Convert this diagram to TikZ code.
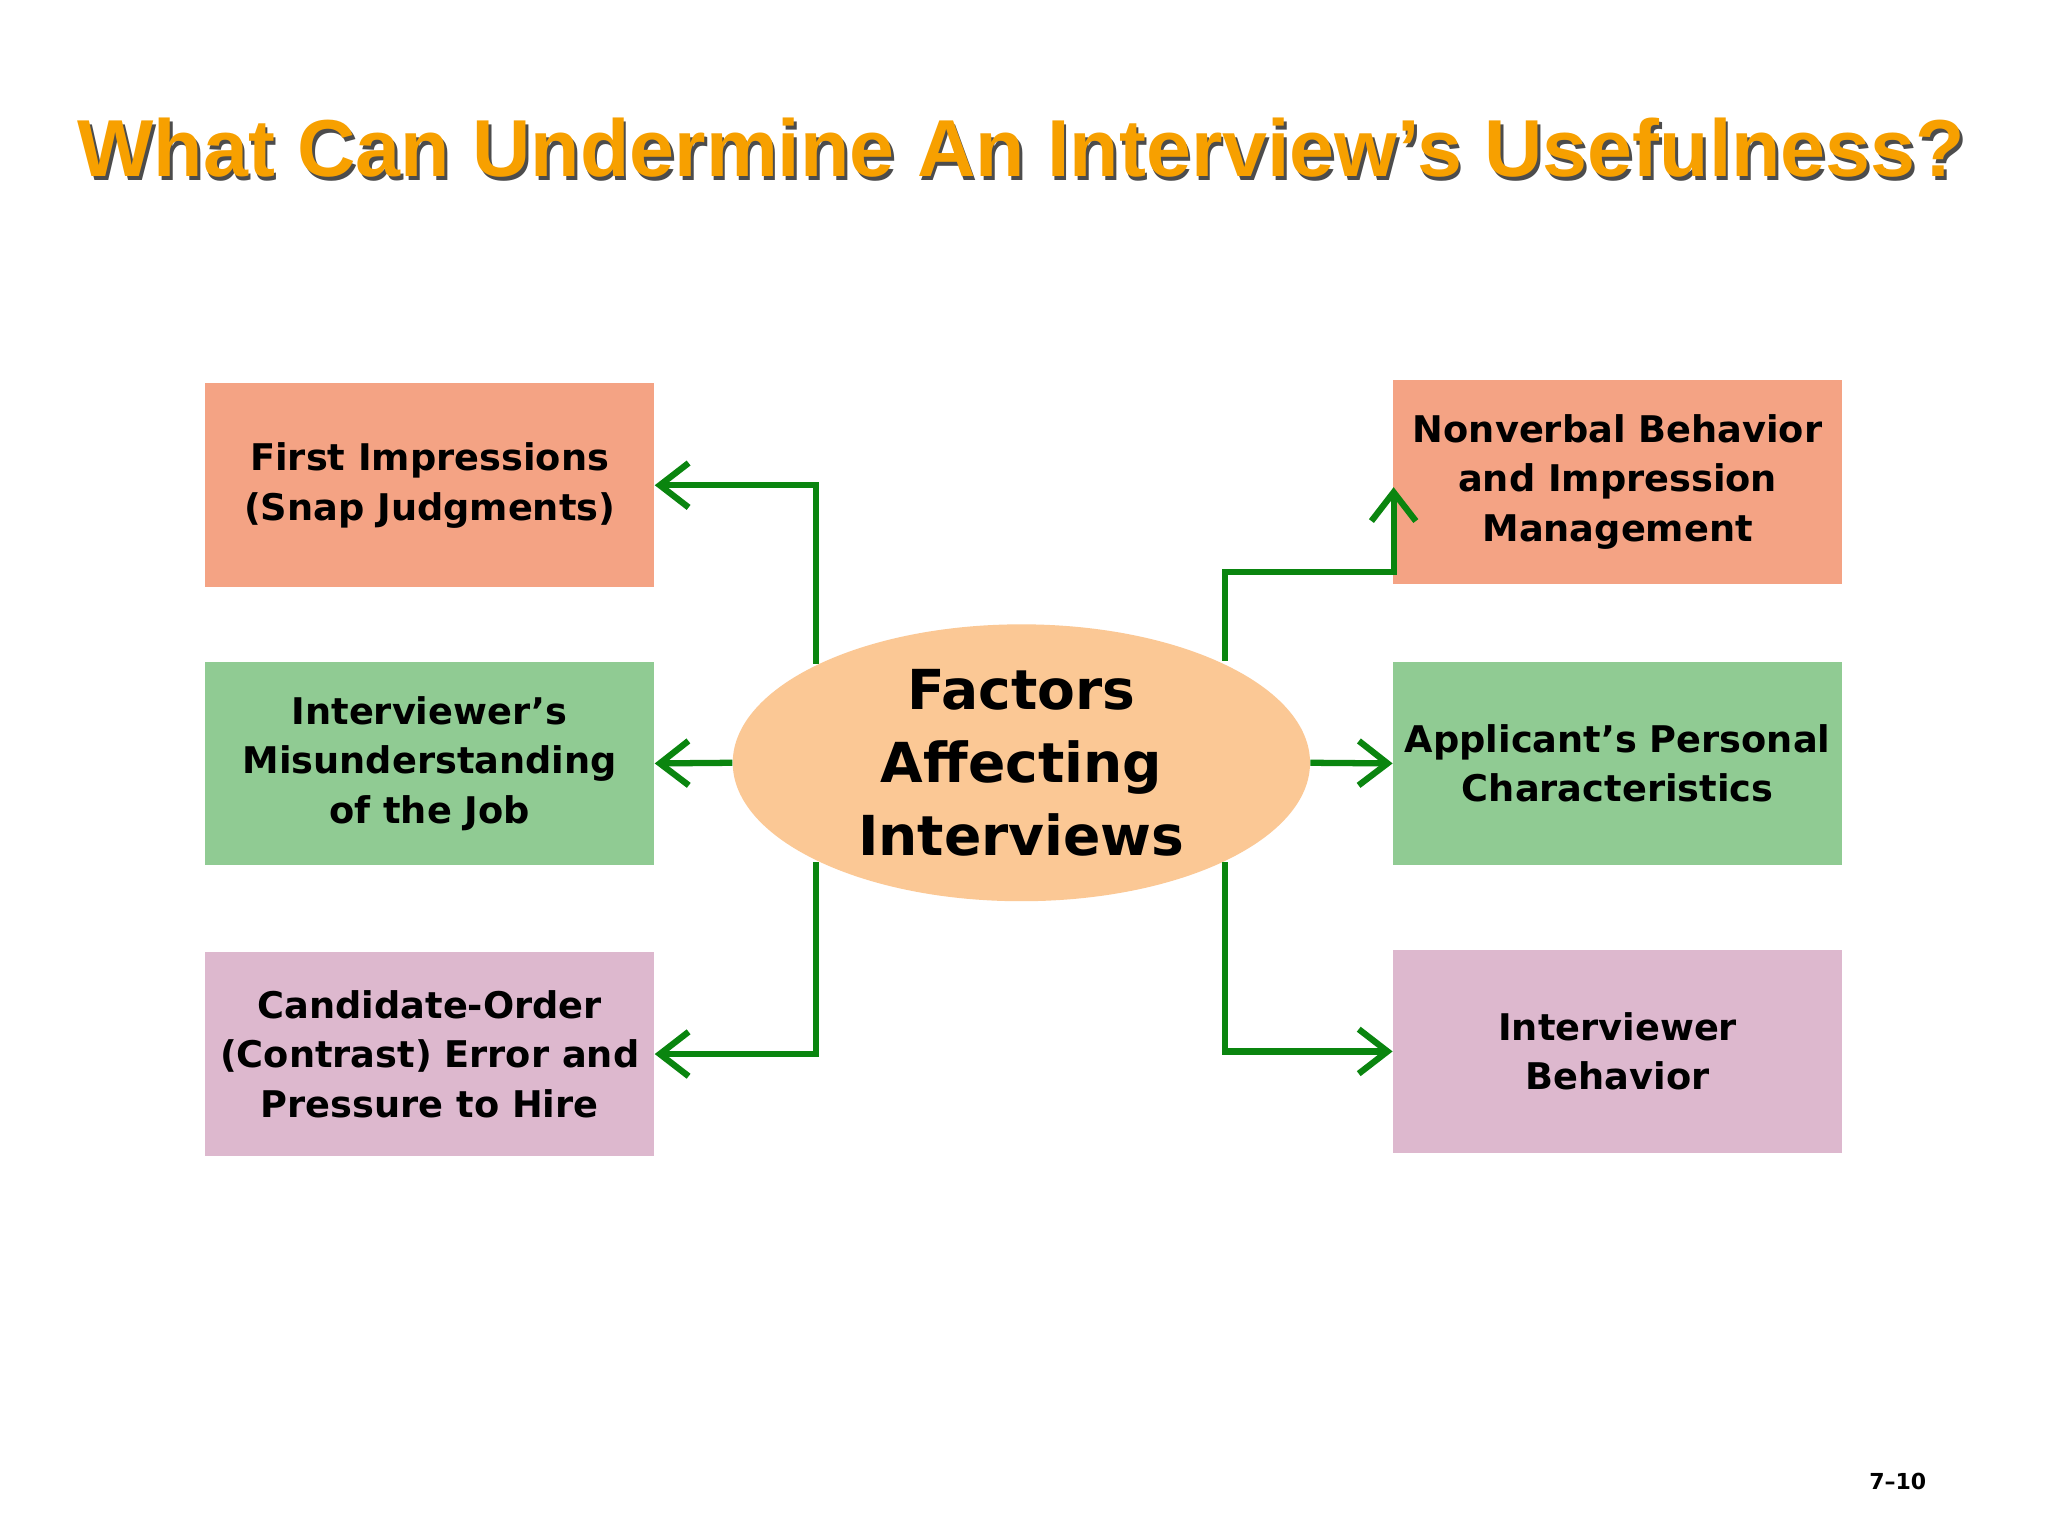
\documentclass[tikz,border=0pt]{standalone}
\usepackage{fontspec}
\setmainfont{DejaVu Sans}
\newfontfamily\titlefont{Liberation Sans}
\usetikzlibrary{arrows.meta,shapes.geometric}
\definecolor{salmon}{HTML}{F4A384}
\definecolor{mint}{HTML}{90CB93}
\definecolor{mauve}{HTML}{DDB8CE}
\definecolor{peach}{HTML}{FBC895}
\definecolor{arrgreen}{HTML}{0A850F}
\definecolor{ttl}{HTML}{F7A000}
\begin{document}
\begin{tikzpicture}[x=0.025cm,y=-0.025cm,
  box/.style={minimum width=344*0.025cm,minimum height=156*0.025cm,inner sep=0pt,align=center,font=\bfseries\fontsize{20}{27}\selectfont},
  conn/.style={draw=arrgreen,line width=0.12cm,-{Straight Barb[length=0.55cm,width=0.85cm,line width=0.12cm]}}]
\useasboundingbox[fill=white] (0,0) rectangle (1568,1176);
\node[font=\titlefont\bfseries\fontsize{44}{50}\selectfont,text=black!70] at (784,116) {What Can Undermine An Interview’s Usefulness?};
\node[font=\titlefont\bfseries\fontsize{44}{50}\selectfont,text=ttl] at (782,113) {What Can Undermine An Interview’s Usefulness?};
\node[box,fill=salmon] (l1) at (329,371.5) {First Impressions\\(Snap Judgments)};
\node[box,fill=mint] (l2) at (329,584.5) {Interviewer’s\\Misunderstanding\\of the Job};
\node[box,fill=mauve] (l3) at (329,807) {Candidate-Order\\(Contrast) Error and\\Pressure to Hire};
\node[box,fill=salmon] (r1) at (1238.5,369) {Nonverbal Behavior\\and Impression\\Management};
\node[box,fill=mint] (r2) at (1238.5,584.5) {Applicant’s Personal\\Characteristics};
\node[box,fill=mauve] (r3) at (1238.5,805) {Interviewer\\Behavior};
\node[ellipse,fill=peach,minimum width=442*0.025cm,minimum height=212*0.025cm,inner sep=0pt,align=center,font=\bfseries\fontsize{30}{40}\selectfont] (c) at (782,584) {Factors\\Affecting\\Interviews};
\coordinate (a1) at (625,508);
\coordinate (a3) at (625,660);
\coordinate (b1) at (938,506);
\coordinate (b3) at (938,660);
\coordinate (bend) at (1067,438);
\draw[conn] (a1) |- (l1.east);
\draw[conn] (c.west) -- (l2.east);
\draw[conn] (a3) |- (l3.east);
\draw[conn] (b1) |- (bend) -- ([yshift=-0.1cm]bend |- r1.east);
\draw[conn] (c.east) -- (r2.west);
\draw[conn] (b3) |- (r3.west);
\node[font=\bfseries\fontsize{12}{14}\selectfont] (pg) at (1453,1134) {7–10};
\end{tikzpicture}
\end{document}
